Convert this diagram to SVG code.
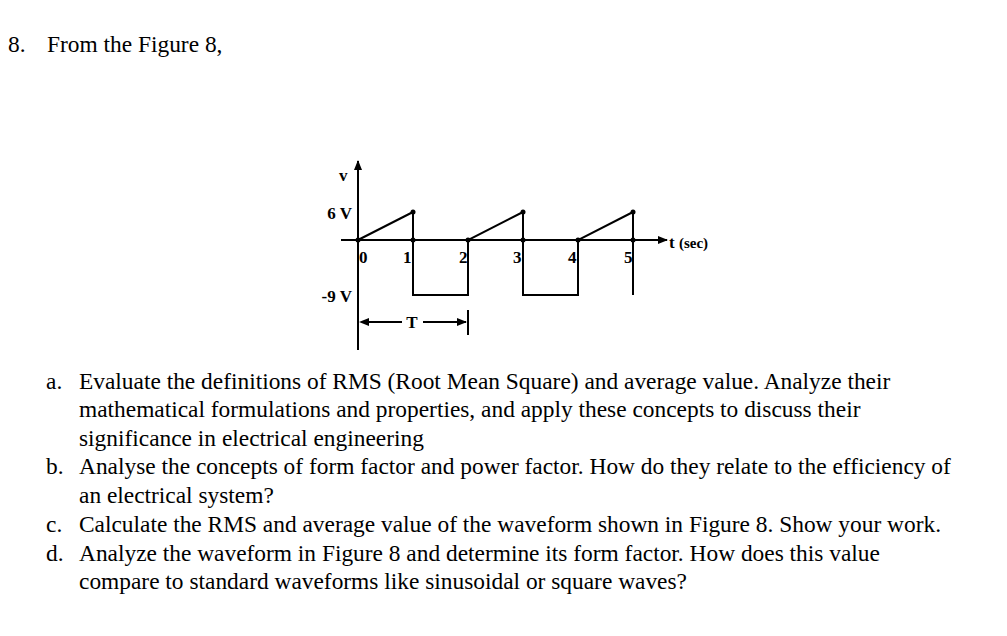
<svg xmlns="http://www.w3.org/2000/svg" width="1007" height="636" viewBox="0 0 1007 636">
<defs>
<style>
.t{font-family:"Liberation Serif",serif;font-size:23.4px;fill:#000}
.l{font-family:"Liberation Serif",serif;font-size:17px;font-weight:bold;fill:#000}
.s{font-family:"Liberation Serif",serif;font-size:15px;font-weight:bold;fill:#000}
.ln{stroke:#000;stroke-width:2;fill:none}
</style>
<marker id="ah" markerWidth="10" markerHeight="8" refX="9" refY="4" orient="auto" markerUnits="userSpaceOnUse"><path d="M0,0 L10,4 L0,8 Z" fill="#000"/></marker>
</defs>
<rect width="1007" height="636" fill="#fff"/>
<text class="t" x="8" y="52">8.</text><text class="t" x="47" y="52">From the Figure 8,</text>
<g id="graph">
<g id="axes">
<line class="ln" x1="358" y1="350" x2="358" y2="161" marker-end="url(#ah)"/>
<line class="ln" x1="341" y1="240" x2="667" y2="240" marker-end="url(#ah)"/>
</g>
<g id="waveform">
<path class="ln" d="M358,240 L413,212 L413,295 L468,295 L468,240 L523,212 L523,295 L578,295 L578,240 L633,212 L633,295"/>
<g fill="#000">
<circle cx="358" cy="240" r="2.5"/><circle cx="413" cy="212" r="2.5"/><circle cx="413" cy="240" r="2.5"/>
<circle cx="468" cy="240" r="2.5"/><circle cx="523" cy="212" r="2.5"/><circle cx="523" cy="240" r="2.5"/>
<circle cx="578" cy="240" r="2.5"/><circle cx="633" cy="212" r="2.5"/><circle cx="633" cy="240" r="2.5"/>
</g>
</g>
<g id="period">
<line class="ln" x1="362" y1="322" x2="402" y2="322"/>
<path d="M359,322 L369,318 L369,326 Z" fill="#000"/>
<line class="ln" x1="423" y1="322" x2="466" y2="322" marker-end="url(#ah)"/>
<line class="ln" x1="468" y1="310" x2="468" y2="335"/>
<text class="l" x="412" y="328" text-anchor="middle">T</text>
</g>
<text class="l" x="339" y="181">v</text>
<text class="l" x="352" y="219" text-anchor="end">6 V</text>
<text class="l" x="352" y="302" text-anchor="end">-9 V</text>
<text class="l" x="669" y="248" font-size="19">t <tspan class="s">(sec)</tspan></text>
<text class="l" x="359" y="263">0</text>
<text class="l" x="403" y="263">1</text>
<text class="l" x="459" y="263">2</text>
<text class="l" x="513" y="263">3</text>
<text class="l" x="568" y="263">4</text>
<text class="l" x="624" y="263">5</text>
</g>
<g id="questions">
<text class="t" x="46" y="389">a.</text><text class="t" x="79" y="389">Evaluate the definitions of RMS (Root Mean Square) and average value. Analyze their</text>
<text class="t" x="79" y="417">mathematical formulations and properties, and apply these concepts to discuss their</text>
<text class="t" x="79" y="446">significance in electrical engineering</text>
<text class="t" x="46" y="474">b.</text><text class="t" x="79" y="474">Analyse the concepts of form factor and power factor. How do they relate to the efficiency of</text>
<text class="t" x="79" y="503">an electrical system?</text>
<text class="t" x="46" y="532">c.</text><text class="t" x="79" y="532">Calculate the RMS and average value of the waveform shown in Figure 8. Show your work.</text>
<text class="t" x="46" y="561">d.</text><text class="t" x="79" y="561">Analyze the waveform in Figure 8 and determine its form factor. How does this value</text>
<text class="t" x="79" y="589">compare to standard waveforms like sinusoidal or square waves?</text>
</g>
</svg>
